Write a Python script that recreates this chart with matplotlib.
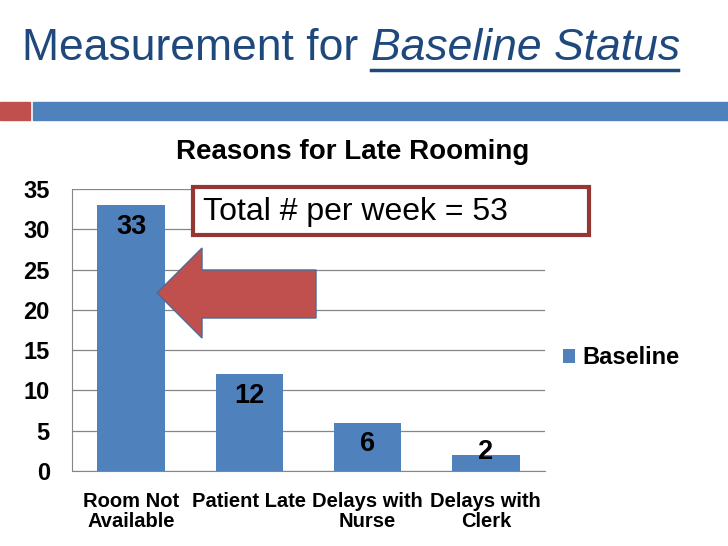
import matplotlib.pyplot as plt
from matplotlib.patches import Polygon, Rectangle
from matplotlib.lines import Line2D

categories = ['Room Not\nAvailable', 'Patient Late', 'Delays with\nNurse', 'Delays with\nClerk']
baseline = [33, 12, 6, 2]
yticks = [0, 5, 10, 15, 20, 25, 30, 35]

BLUE = '#4F81BD'
RED = '#C0504D'
NAVY = '#1F497D'
FONT = 'Liberation Sans'
W, H = 728, 546


def fx(px):
    return px / W


def fy(py):
    return 1 - py / H


fig = plt.figure(figsize=(7.28, 5.46), dpi=100)
fig.patch.set_facecolor('white')

# slide header
fig.text(fx(22), fy(49), 'Measurement for ', fontsize=32, color=NAVY,
         family=FONT, va='center', ha='left')
fig.text(fx(371), fy(49), 'Baseline Status', fontsize=32, color=NAVY, style='italic',
         family=FONT, va='center', ha='left')
fig.add_artist(Line2D([fx(371), fx(678)], [fy(70), fy(70)], color=NAVY, lw=2.5))
fig.add_artist(Rectangle((fx(0), fy(120)), fx(30), (120 - 102) / H,
                         color=RED, transform=fig.transFigure))
fig.add_artist(Rectangle((fx(33), fy(120)), fx(728 - 33), (120 - 102) / H,
                         color=BLUE, transform=fig.transFigure))

# chart
ax = fig.add_axes([fx(72), fy(471), fx(545 - 72), (471 - 189) / H])
x = range(len(categories))
ax.bar(x, baseline, width=0.57, color=BLUE, zorder=3, label='Baseline')
for i, v in zip(x, baseline):
    ax.text(i, max(v - 2.7, 2.35), str(v), ha='center', va='center',
            fontsize=19.5, fontweight='bold', family=FONT, zorder=4)

ax.set_xlim(-0.5, len(categories) - 0.5)
ax.set_ylim(0, 35)
ax.set_yticks(yticks)
ax.set_xticks(list(x))
ax.set_xticklabels(categories, fontsize=14.5, fontweight='bold', family=FONT,
                   linespacing=1.05)
ax.set_yticklabels([str(t) for t in yticks], fontsize=17, fontweight='bold', family=FONT)
ax.tick_params(axis='both', length=0)
ax.tick_params(axis='y', pad=16)
ax.tick_params(axis='x', pad=15)
ax.grid(axis='y', color='#868686', lw=0.9, zorder=0)
for s in ['top', 'right']:
    ax.spines[s].set_visible(False)
for s in ['left', 'bottom']:
    ax.spines[s].set_color('#868686')
fig.text(fx(353), fy(152), 'Reasons for Late Rooming', fontsize=20, fontweight='bold',
         family=FONT, ha='center', va='center')

ax.legend(loc='center left', bbox_to_anchor=((563 - 72) / 473, (471 - 358) / 282),
          frameon=False, borderpad=0, borderaxespad=0,
          prop={'family': FONT, 'weight': 'bold', 'size': 17},
          handlelength=0.5, handleheight=0.5, handletextpad=0.34)

# total box
fig.add_artist(Rectangle((fx(193), fy(235)), fx(589 - 193), (235 - 187) / H,
                         transform=fig.transFigure, facecolor='white',
                         edgecolor='#943634', lw=3, zorder=5))
fig.text(fx(203), fy(212), 'Total # per week = 53', fontsize=23,
         family=FONT, va='center', ha='left', zorder=6)

# arrow
pts = [(157, 293), (202, 248), (202, 270), (316, 270), (316, 318), (202, 318), (202, 338)]
fig.add_artist(Polygon([(fx(a), fy(b)) for a, b in pts], closed=True,
                       transform=fig.transFigure, facecolor=RED,
                       edgecolor='#4A6A9A', lw=1, zorder=5))

fig.savefig('out.png', dpi=100)
